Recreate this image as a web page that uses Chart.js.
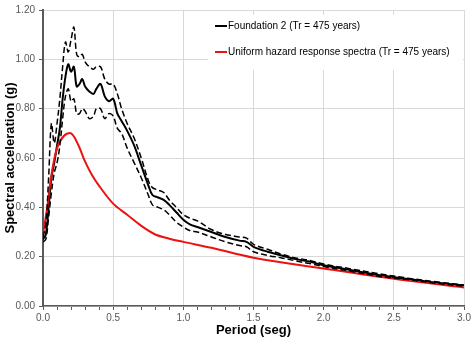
<!DOCTYPE html>
<html>
<head>
<meta charset="UTF-8" />
<style>
  html, body { margin: 0; padding: 0; background: #fff; }
  #wrap { width: 474px; height: 338px; position: relative; }
</style>
</head>
<body>
<div id="wrap"><canvas id="chart" width="474" height="338"></canvas></div>
<script src="https://cdn.jsdelivr.net/npm/chart.js@4"></script>
<script>
// Foundation 2 spectra (mean and +/- band)
const periods = [0, 0.02, 0.04, 0.06, 0.08, 0.1, 0.12, 0.14, 0.16, 0.18, 0.2, 0.22, 0.24, 0.26, 0.28, 0.3, 0.33, 0.36, 0.38, 0.41, 0.44, 0.47, 0.5, 0.53, 0.56, 0.6, 0.65, 0.7, 0.75, 0.78, 0.82, 0.86, 0.9, 0.95, 1.0, 1.05, 1.1, 1.2, 1.3, 1.4, 1.45, 1.5, 1.6, 1.7, 1.8, 1.9, 2.0, 2.2, 2.4, 2.6, 2.8, 3.0];
const foundationMean = [0.27, 0.29, 0.40, 0.52, 0.58, 0.65, 0.72, 0.84, 0.93, 0.98, 0.95, 0.97, 0.89, 0.90, 0.92, 0.89, 0.87, 0.86, 0.88, 0.90, 0.85, 0.83, 0.84, 0.78, 0.75, 0.71, 0.65, 0.57, 0.49, 0.45, 0.44, 0.43, 0.41, 0.38, 0.35, 0.33, 0.32, 0.30, 0.28, 0.265, 0.26, 0.24, 0.22, 0.205, 0.19, 0.18, 0.165, 0.145, 0.125, 0.11, 0.095, 0.083];
const foundationUpper = [0.28, 0.33, 0.52, 0.74, 0.66, 0.74, 0.84, 0.97, 1.07, 1.03, 1.08, 1.13, 1.02, 1.01, 1.02, 0.99, 0.97, 0.96, 0.97, 0.97, 0.92, 0.90, 0.90, 0.86, 0.80, 0.74, 0.68, 0.60, 0.51, 0.48, 0.47, 0.46, 0.43, 0.40, 0.37, 0.355, 0.345, 0.31, 0.29, 0.28, 0.275, 0.25, 0.23, 0.21, 0.195, 0.185, 0.17, 0.15, 0.13, 0.113, 0.098, 0.085];
const foundationLower = [0.26, 0.27, 0.36, 0.46, 0.54, 0.58, 0.65, 0.76, 0.85, 0.88, 0.83, 0.84, 0.78, 0.78, 0.80, 0.79, 0.76, 0.77, 0.80, 0.80, 0.76, 0.78, 0.77, 0.72, 0.70, 0.64, 0.58, 0.52, 0.45, 0.41, 0.40, 0.39, 0.37, 0.34, 0.32, 0.305, 0.30, 0.28, 0.26, 0.245, 0.24, 0.22, 0.205, 0.195, 0.183, 0.172, 0.16, 0.14, 0.12, 0.107, 0.092, 0.08];

// uniform hazard response spectrum
const uhsPeriods = [0, 0.03, 0.06, 0.1, 0.15, 0.2, 0.25, 0.3, 0.35, 0.4, 0.5, 0.6, 0.7, 0.8, 0.9, 1.0, 1.2, 1.5, 2.0, 2.5, 3.0];
const uhsValues = [0.29, 0.40, 0.53, 0.64, 0.69, 0.70, 0.655, 0.585, 0.53, 0.487, 0.415, 0.37, 0.325, 0.29, 0.273, 0.26, 0.236, 0.196, 0.152, 0.11, 0.075];

const yTicks = [0, 0.2, 0.4, 0.6, 0.8, 1.0, 1.2];
const legendLabels = ['Foundation 2 (Tr = 475 years)', 'Uniform hazard response spectra (Tr = 475 years)'];

const toPoints = (xs, ys) => xs.map((x, i) => ({ x, y: ys[i] }));
const isMajor = v => Math.abs(v * 2 - Math.round(v * 2)) < 1e-6;

const legendBox = {
  id: 'legendBox',
  afterDraw(chart) {
    const { ctx } = chart;
    ctx.save();
    ctx.fillStyle = '#fff';
    ctx.fillRect(208, 15, 255, 55);
    const rows = [{ y: 26, color: '#000' }, { y: 52, color: '#ee1111' }];
    ctx.font = '10px "Liberation Sans", Arial, sans-serif';
    ctx.textBaseline = 'middle';
    rows.forEach((r, i) => {
      ctx.strokeStyle = r.color;
      ctx.lineWidth = 2;
      ctx.beginPath();
      ctx.moveTo(215, r.y);
      ctx.lineTo(227, r.y);
      ctx.stroke();
      ctx.fillStyle = '#000';
      ctx.fillText(legendLabels[i], 228, r.y);
    });
    ctx.restore();
  }
};

const common = { pointRadius: 0, tension: 0.35, fill: false };

new Chart(document.getElementById('chart').getContext('2d'), {
  type: 'line',
  data: {
    datasets: [
      { ...common, label: 'upper', data: toPoints(periods, foundationUpper), borderColor: '#000', borderWidth: 1.5, borderDash: [6, 3] },
      { ...common, label: 'lower', data: toPoints(periods, foundationLower), borderColor: '#000', borderWidth: 1.5, borderDash: [6, 3] },
      { ...common, label: legendLabels[1], data: toPoints(uhsPeriods, uhsValues), borderColor: '#ee1111', borderWidth: 2 },
      { ...common, label: legendLabels[0], data: toPoints(periods, foundationMean), borderColor: '#000', borderWidth: 2 }
    ]
  },
  options: {
    responsive: false,
    animation: false,
    layout: { padding: { left: 0, right: 10, top: 7, bottom: 0 } },
    plugins: { legend: { display: false }, tooltip: { enabled: false } },
    scales: {
      x: {
        type: 'linear',
        min: 0,
        max: 3,
        afterFit: s => { s.height = 32; },
        ticks: {
          stepSize: 0.1,
          autoSkip: false,
          maxRotation: 0,
          padding: 2,
          color: '#595959',
          font: { family: '"Liberation Sans", Arial', size: 10 },
          callback: v => (isMajor(v) ? v.toFixed(1) : '')
        },
        grid: {
          color: c => (c.tick && isMajor(c.tick.value) ? '#d9d9d9' : 'rgba(0,0,0,0)'),
          tickColor: '#595959',
          tickLength: 4
        },
        border: { color: '#595959', width: 1.5 },
        title: {
          display: true,
          text: 'Period (seg)',
          color: '#000',
          font: { family: '"Liberation Sans", Arial', size: 13, weight: 'bold' },
          padding: { top: 0, bottom: 0 }
        }
      },
      y: {
        min: 0,
        max: 1.2,
        afterFit: s => { s.width = 43; },
        afterBuildTicks: s => { s.ticks = yTicks.map(v => ({ value: v })); },
        ticks: {
          padding: 4,
          color: '#595959',
          font: { family: '"Liberation Sans", Arial', size: 10 },
          callback: v => v.toFixed(2)
        },
        grid: { color: '#d9d9d9', tickColor: '#595959', tickLength: 4 },
        border: { color: '#595959', width: 2 },
        title: {
          display: true,
          text: 'Spectral acceleration (g)',
          color: '#000',
          font: { family: '"Liberation Sans", Arial', size: 13, weight: 'bold' },
          padding: { top: 3, bottom: 0 }
        }
      }
    }
  },
  plugins: [legendBox]
});
</script>
</body>
</html>
